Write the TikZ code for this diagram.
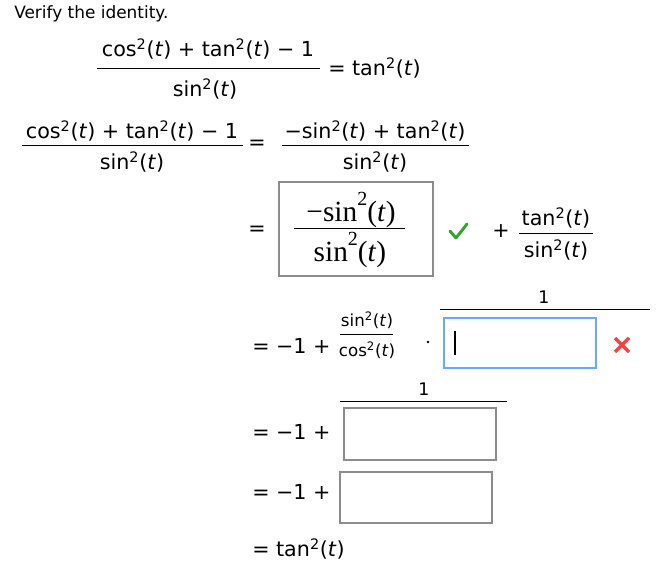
\documentclass[tikz,border=0pt]{standalone}
\usepackage{fontspec}
\setmainfont{DejaVu Sans}
\newfontfamily\serf{Liberation Serif}
\begin{document}
\begin{tikzpicture}[x=0.75pt,y=-0.75pt,
  txt/.style={inner sep=0pt,font=\fontsize{15.5}{17}\selectfont},
  mtxt/.style={inner sep=0pt,font=\fontsize{12.5}{14}\selectfont},
  stxt/.style={inner sep=0pt,font=\fontsize{13}{14}\selectfont},
  bar/.style={line width=0.75pt},
  ibox/.style={draw=black!45,line width=0.8pt}]
\useasboundingbox (0,0) rectangle (662,578);
\newcommand{\sq}{\textsuperscript{2}}
\node[inner sep=0pt,font=\fontsize{12.7}{14}\selectfont,anchor=west] (title) at (14,14) {Verify the identity.};
% line 1
\node[txt] (n1) at (208,49) {cos\sq(\textit{t}) + tan\sq(\textit{t}) − 1};
\draw[bar] (97,68) -- (320,68);
\node[txt] (d1) at (205,89) {sin\sq(\textit{t})};
\node[txt,anchor=west] (r1) at (328,68) {= tan\sq(\textit{t})};
% line 2
\node[txt] (n2) at (132,131) {cos\sq(\textit{t}) + tan\sq(\textit{t}) − 1};
\draw[bar] (22,145) -- (243,145);
\node[txt] (d2) at (132,162) {sin\sq(\textit{t})};
\node[txt] (e2) at (257,145) {=};
\node[txt] (n3) at (375,131) {−sin\sq(\textit{t}) + tan\sq(\textit{t})};
\draw[bar] (282,145) -- (469,145);
\node[txt] (d3) at (375,162) {sin\sq(\textit{t})};
% line 3
\node[txt] (e3) at (257,231) {=};
\node[ibox,minimum width=154*0.75pt,minimum height=94*0.75pt] (box1) at (356,229) {};
\node[inner sep=0pt,font=\serf\fontsize{22}{24}\selectfont] (n4) at (351,210) {−sin\raisebox{0.55em}{\fontsize{15}{16}\selectfont 2}(\textit{t})};
\draw[bar] (294,228) -- (405,228);
\node[inner sep=0pt,font=\serf\fontsize{22}{24}\selectfont] (d4) at (350,250) {sin\raisebox{0.55em}{\fontsize{15}{16}\selectfont 2}(\textit{t})};
\draw[line width=2.2pt,color=green!55!black!80,line cap=round,line join=round] (450,231) -- (456,238) -- (467,224);
\node[txt] (p3) at (501,231) {+};
\node[txt] (n5) at (556,218) {tan\sq(\textit{t})};
\draw[bar] (519,233) -- (593,233);
\node[txt] (d5) at (556,250) {sin\sq(\textit{t})};
% line 4
\node[stxt] (one1) at (544,297) {1};
\draw[line width=0.6pt] (440,309) -- (650,309);
\node[txt,anchor=west] (e4) at (252,346) {= −1 +};
\node[mtxt] (n6) at (367,320) {sin\sq(\textit{t})};
\draw[bar] (340,334) -- (393,334);
\node[mtxt] (d6) at (367,350) {cos\sq(\textit{t})};
\fill (428,342) circle (1.3);
\node[draw=blue!55!cyan!60,line width=1pt,minimum width=152*0.75pt,minimum height=50*0.75pt] (box2) at (520,343) {};
\draw[line width=0.8pt] (455,331) -- (455,355);
\draw[line width=2.5pt,color=red!75] (615,338) -- (629,352) (615,352) -- (629,338);
% line 5
\node[stxt] (one2) at (424,389) {1};
\draw[line width=0.6pt] (340,401) -- (507,401);
\node[txt,anchor=west] (e5) at (252,432) {= −1 +};
\node[ibox,minimum width=152*0.75pt,minimum height=52*0.75pt] (box3) at (420,434) {};
% line 6
\node[txt,anchor=west] (e6) at (252,492) {= −1 +};
\node[ibox,minimum width=152*0.75pt,minimum height=51*0.75pt] (box4) at (416,497.5) {};
% line 7
\node[txt,anchor=west] (e7) at (252,549) {= tan\sq(\textit{t})};
\end{tikzpicture}
\end{document}
